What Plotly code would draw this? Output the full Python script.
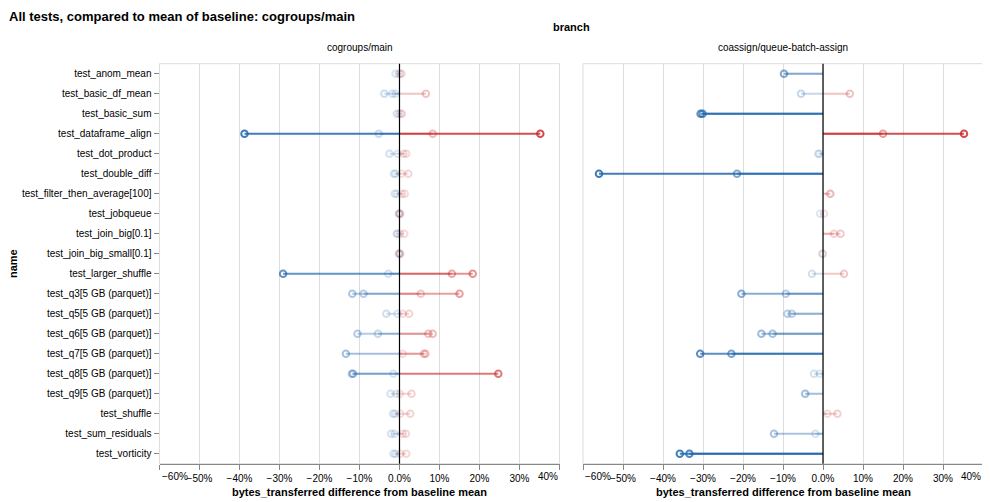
import plotly.graph_objects as go

# test names, top to bottom
names = [
    'test_anom_mean', 'test_basic_df_mean', 'test_basic_sum', 'test_dataframe_align',
    'test_dot_product', 'test_double_diff', 'test_filter_then_average[100]', 'test_jobqueue',
    'test_join_big[0.1]', 'test_join_big_small[0.1]', 'test_larger_shuffle',
    'test_q3[5 GB (parquet)]', 'test_q5[5 GB (parquet)]', 'test_q6[5 GB (parquet)]',
    'test_q7[5 GB (parquet)]', 'test_q8[5 GB (parquet)]', 'test_q9[5 GB (parquet)]',
    'test_shuffle', 'test_sum_residuals', 'test_vorticity',
]

branches = ['cogroups/main', 'coassign/queue-batch-assign']

# difference from baseline mean, one list of runs per test
main_diff = [
    [-0.010, -0.002, 0.002, 0.005],
    [-0.038, -0.018, -0.010, 0.066],
    [-0.007, -0.002, 0.003, 0.006],
    [-0.3875, -0.052, 0.083, 0.352],
    [-0.025, -0.005, 0.010, 0.017],
    [-0.014, -0.010, 0.005, 0.022],
    [-0.012, -0.007, 0.006, 0.013],
    [-0.002, -0.001, 0.001, 0.002],
    [-0.007, -0.005, 0.001, 0.012],
    [-0.002, -0.001, 0.001, 0.002],
    [-0.291, -0.028, 0.131, 0.183],
    [-0.118, -0.090, 0.053, 0.150],
    [-0.033, -0.005, 0.008, 0.024],
    [-0.105, -0.054, 0.072, 0.083],
    [-0.134, 0.008, 0.061, 0.065],
    [-0.119, -0.116, -0.015, 0.247],
    [-0.0225, -0.0075, 0.001, 0.030],
    [-0.016, -0.011, 0.002, 0.027],
    [-0.021, -0.0125, 0.008, 0.016],
    [-0.015, -0.010, 0.002, 0.017],
]

assign_diff = [
    [-0.098, -0.097],
    [-0.055, 0.067],
    [-0.306, -0.301],
    [0.150, 0.3525],
    [-0.012, -0.009],
    [-0.560, -0.215],
    [0.017, 0.019],
    [-0.007, 0.0025],
    [0.0275, 0.044],
    [-0.002, 0.0],
    [-0.0275, 0.0525],
    [-0.204, -0.093],
    [-0.089, -0.078],
    [-0.154, -0.126],
    [-0.307, -0.229],
    [-0.0225, -0.008],
    [-0.045, -0.044],
    [0.011, 0.036],
    [-0.1225, -0.019],
    [-0.358, -0.334],
]

tick_vals = [-0.6, -0.5, -0.4, -0.3, -0.2, -0.1, 0.0, 0.1, 0.2, 0.3, 0.4]
tick_text = ['\u221260%', '\u221250%', '\u221240%', '\u221230%', '\u221220%', '\u221210%',
             '0.0%', '10%', '20%', '30%', '40%']

# the page puts the plot 8px in from the top-left corner
OFF = 8
W, H = 990 - OFF, 502 - OFF
FONT = 'Liberation Sans, Arial, sans-serif'


def point_color(v):
    a = min(0.86, 0.15 + 1.9 * abs(v))
    r, g, b = (33, 102, 172) if v < 0 else (200, 40, 40)
    return f'rgba({r},{g},{b},{a:.3f})'


def px_x(p):
    return (p - OFF) / W


def px_y(p):
    return 1 - (p - OFF) / H


panels = [(159.5, 559.5), (583, 983)]
y_dom = [px_y(463.7), px_y(63.7)]

fig = go.Figure()

for i, diffs in enumerate([main_diff, assign_diff]):
    xa = 'x' if i == 0 else 'x2'
    ya = 'y' if i == 0 else 'y2'
    xs, ys, cols = [], [], []
    for name, vals in zip(names, diffs):
        for v in vals:
            c = point_color(v)
            fig.add_trace(go.Scatter(
                x=[0, v], y=[name, name], mode='lines', xaxis=xa, yaxis=ya,
                line=dict(color=c, width=2), hoverinfo='skip', showlegend=False,
            ))
            xs.append(v)
            ys.append(name)
            cols.append(c)
    fig.add_trace(go.Scatter(
        x=xs, y=ys, mode='markers', xaxis=xa, yaxis=ya, showlegend=False,
        marker=dict(symbol='circle-open', size=6.5, color=cols, line=dict(width=2, color=cols)),
    ))

axis_x = dict(
    range=[-0.6, 0.4], tickvals=tick_vals, ticktext=[''] + tick_text[1:-1] + [''],
    showgrid=True, gridcolor='#ddd', gridwidth=1, zeroline=False,
    showline=True, linecolor='#888', linewidth=1,
    ticks='outside', ticklen=5, tickcolor='#888',
    tickfont=dict(size=10, color='#000', family=FONT), fixedrange=True,
)
axis_y = dict(
    type='category', categoryorder='array', categoryarray=names,
    range=[len(names) - 0.5, -0.5], showgrid=False, zeroline=False, showline=False,
    domain=y_dom, fixedrange=True,
)

fig.update_layout(
    width=W, height=H,
    margin=dict(l=0, r=0, t=0, b=0, autoexpand=False),
    paper_bgcolor='white', plot_bgcolor='white',
    font=dict(family=FONT, color='#000'),
    xaxis=dict(axis_x, domain=[px_x(panels[0][0]), px_x(panels[0][1])], anchor='y'),
    xaxis2=dict(axis_x, domain=[px_x(panels[1][0]), px_x(panels[1][1])], anchor='y2'),
    yaxis=dict(axis_y, anchor='x', ticks='outside', ticklen=5, tickcolor='#888',
               tickfont=dict(size=10, color='#000', family=FONT)),
    yaxis2=dict(axis_y, anchor='x2', showticklabels=False, ticks=''),
)

shapes = []
for i, (x0, x1) in enumerate(panels):
    shapes.append(dict(type='rect', xref='paper', yref='paper', x0=px_x(x0), x1=px_x(x1),
                       y0=y_dom[0], y1=y_dom[1], line=dict(color='#ddd', width=1), layer='below'))
    xr = 'x' if i == 0 else 'x2'
    yr = 'y domain' if i == 0 else 'y2 domain'
    shapes.append(dict(type='line', xref=xr, yref=yr, x0=0, x1=0, y0=0, y1=1,
                       line=dict(color='black', width=1.2), layer='above'))
fig.update_layout(shapes=shapes)

ann = [
    dict(text='<b>All tests, compared to mean of baseline: cogroups/main</b>', x=0, y=1,
         xanchor='left', yanchor='top', borderpad=0, font=dict(size=13)),
    dict(text='<b>branch</b>', x=px_x(571), y=px_y(27), xanchor='center', yanchor='middle',
         font=dict(size=11)),
    dict(text='<b>name</b>', x=px_x(13), y=px_y(264), xanchor='center', yanchor='middle',
         textangle=-90, font=dict(size=11)),
]
for i, (x0, x1) in enumerate(panels):
    ann.append(dict(text=branches[i], x=px_x((x0 + x1) / 2), y=px_y(48), xanchor='center',
                    yanchor='middle', font=dict(size=10)))
    ann.append(dict(text='<b>bytes_transferred difference from baseline mean</b>',
                    x=px_x((x0 + x1) / 2), y=px_y(492), xanchor='center', yanchor='middle',
                    font=dict(size=11)))
    # flush first / last tick labels like the original axis
    xr = 'x' if i == 0 else 'x2'
    ann.append(dict(text=tick_text[0], xref=xr, x=tick_vals[0], yref='paper', y=px_y(476),
                    xanchor='left', yanchor='middle', font=dict(size=10)))
    ann.append(dict(text=tick_text[-1], xref=xr, x=tick_vals[-1], yref='paper', y=px_y(476),
                    xanchor='right', yanchor='middle', font=dict(size=10)))
for a in ann:
    a.setdefault('xref', 'paper')
    a.setdefault('yref', 'paper')
    a['showarrow'] = False
fig.update_layout(annotations=ann)

fig.write_html('out.html')
